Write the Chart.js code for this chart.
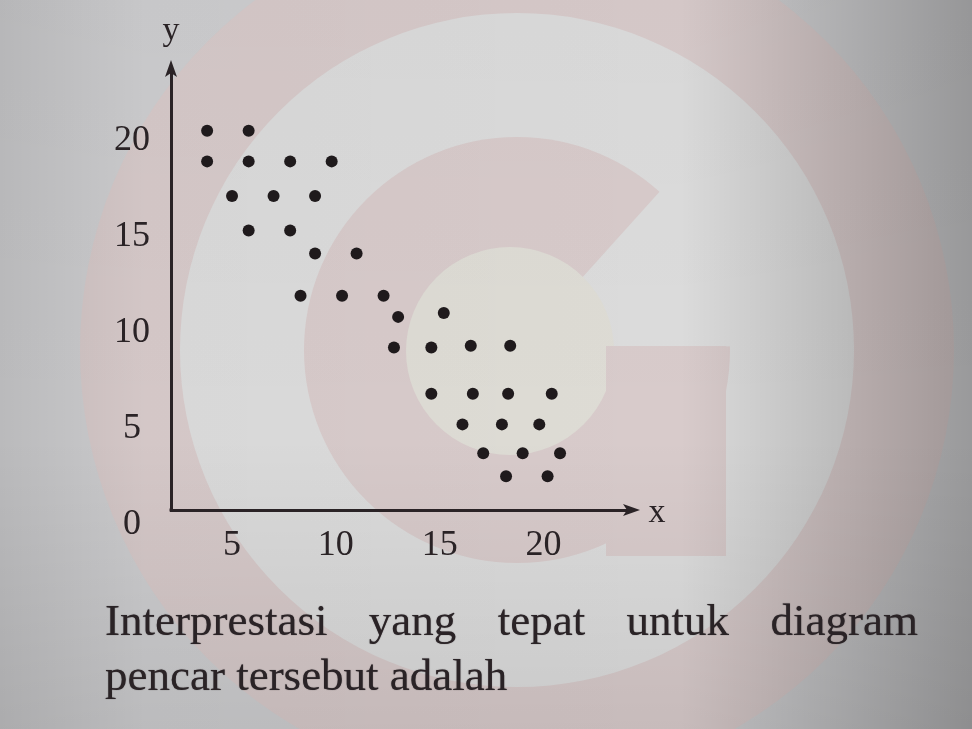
<!DOCTYPE html>
<html><head><meta charset="utf-8">
<script src="https://cdn.jsdelivr.net/npm/chart.js@4.4.0/dist/chart.umd.min.js"></script>
<style>
html,body{margin:0;padding:0;width:972px;height:729px;overflow:hidden;background:#c8c8c8}
#wrap{position:absolute;left:0;top:0;width:972px;height:729px}
.txt{position:absolute;left:105px;width:813px;font-family:"Liberation Serif","Times New Roman",serif;font-size:45px;line-height:55px;color:#2a2326;white-space:nowrap;text-shadow:0 0 1px rgba(40,34,37,0.7)}
#l1{top:593px;text-align:justify;text-align-last:justify;white-space:normal}
#l2{top:648px}
</style></head><body>
<div id="wrap"><canvas id="c" width="972" height="729"></canvas></div>
<div class="txt" id="l1">Interprestasi yang tepat untuk diagram</div>
<div class="txt" id="l2">pencar tersebut adalah</div>
<script>
// Data
const xValues = [3.8, 5.8,
                 3.8, 5.8, 7.8, 9.8,
                 5.0, 7.0, 9.0,
                 5.8, 7.8,
                 9.0, 11.0,
                 8.3, 10.3, 12.3,
                 13.0, 15.2,
                 12.8, 14.6, 16.5, 18.4,
                 14.6, 16.6, 18.3, 20.4,
                 16.1, 18.0, 19.8,
                 17.1, 19.0, 20.8,
                 18.2, 20.2];
const yValues = [20.5, 20.5,
                 18.9, 18.9, 18.9, 18.9,
                 17.1, 17.1, 17.1,
                 15.3, 15.3,
                 14.1, 14.1,
                 11.9, 11.9, 11.9,
                 10.8, 11.0,
                 9.2, 9.2, 9.3, 9.3,
                 6.8, 6.8, 6.8, 6.8,
                 5.2, 5.2, 5.2,
                 3.7, 3.7, 3.7,
                 2.5, 2.5];
const xTicks = [5, 10, 15, 20];
const yTicks = [0, 5, 10, 15, 20];
const xAxisLabel = 'x';
const yAxisLabel = 'y';

const points = xValues.map((x, i) => ({x: x, y: yValues[i]}));
const ink = '#2a2326';
const serif = '"Liberation Serif","Times New Roman",serif';

const bgPlugin = {
  id: 'bg',
  beforeDraw(chart) {
    const ctx = chart.ctx;
    const W = chart.width, H = chart.height;
    const pink = '#d8cbcb', band = '#dcdcdc';
    ctx.save();
    ctx.fillStyle = '#cfcfd1';
    ctx.fillRect(0, 0, W, H);
    const cx = 517, cy = 350;
    ctx.fillStyle = pink;
    ctx.beginPath(); ctx.arc(cx, cy, 437, 0, Math.PI * 2); ctx.fill();
    ctx.fillStyle = band;
    ctx.beginPath(); ctx.arc(cx, cy, 337, 0, Math.PI * 2); ctx.fill();
    ctx.fillStyle = pink;
    ctx.beginPath(); ctx.arc(cx, cy, 213, 0, Math.PI * 2); ctx.fill();
    ctx.fillStyle = band;
    ctx.beginPath(); ctx.moveTo(cx, cy);
    ctx.arc(cx, cy, 216, -48 * Math.PI / 180, -1 * Math.PI / 180);
    ctx.closePath(); ctx.fill();
    ctx.fillStyle = '#dedcd5';
    ctx.beginPath(); ctx.arc(510, 351, 104, 0, Math.PI * 2); ctx.fill();
    ctx.fillStyle = pink;
    ctx.fillRect(606, 346, 120, 210);
    let g = ctx.createLinearGradient(0, 0, W, 0);
    g.addColorStop(0, 'rgba(0,0,0,0.10)');
    g.addColorStop(0.15, 'rgba(0,0,0,0.02)');
    g.addColorStop(0.7, 'rgba(0,0,0,0.0)');
    g.addColorStop(1, 'rgba(0,0,0,0.26)');
    ctx.fillStyle = g; ctx.fillRect(0, 0, W, H);
    let g2 = ctx.createLinearGradient(0, 0, 0, H);
    g2.addColorStop(0, 'rgba(0,0,0,0.02)');
    g2.addColorStop(0.6, 'rgba(0,0,0,0.0)');
    g2.addColorStop(1, 'rgba(0,0,0,0.08)');
    ctx.fillStyle = g2; ctx.fillRect(0, 0, W, H);
    ctx.restore();
  },
  afterDraw(chart) {
    const ctx = chart.ctx;
    const a = chart.chartArea;
    ctx.save();
    ctx.fillStyle = ink;
    ctx.strokeStyle = ink;
    ctx.lineWidth = 3;
    ctx.fillRect(a.left - 1.5, a.bottom - 1.5, 3, 3);
    ctx.beginPath(); ctx.moveTo(a.left, a.top); ctx.lineTo(a.left, a.top - 4); ctx.stroke();
    ctx.beginPath();
    ctx.moveTo(a.left, a.top - 10);
    ctx.lineTo(a.left - 6, a.top + 7);
    ctx.lineTo(a.left, a.top + 3);
    ctx.lineTo(a.left + 6, a.top + 7);
    ctx.closePath(); ctx.fill();
    ctx.beginPath(); ctx.moveTo(a.right, a.bottom); ctx.lineTo(a.right + 4, a.bottom); ctx.stroke();
    ctx.beginPath();
    ctx.moveTo(a.right + 10, a.bottom);
    ctx.lineTo(a.right - 7, a.bottom - 6);
    ctx.lineTo(a.right - 3, a.bottom);
    ctx.lineTo(a.right - 7, a.bottom + 6);
    ctx.closePath(); ctx.fill();
    ctx.font = '34px ' + serif;
    ctx.textAlign = 'center';
    ctx.textBaseline = 'alphabetic';
    ctx.fillText(yAxisLabel, a.left, 40);
    ctx.fillText(xAxisLabel, a.right + 27, a.bottom + 12);
    ctx.restore();
  }
};

new Chart(document.getElementById('c'), {
  type: 'scatter',
  data: {
    datasets: [{
      data: points,
      backgroundColor: '#1f1a1c',
      borderColor: '#1f1a1c',
      borderWidth: 0,
      pointRadius: 6,
      pointHoverRadius: 6
    }]
  },
  options: {
    responsive: false,
    animation: false,
    devicePixelRatio: 1,
    layout: {padding: {left: 111, right: 342, top: 70, bottom: 159}},
    plugins: {legend: {display: false}, tooltip: {enabled: false}, title: {display: false}},
    scales: {
      x: {
        type: 'linear',
        min: 2.06,
        max: 24.17,
        afterBuildTicks(s) { s.ticks = xTicks.map(v => ({value: v})); },
        afterFit(s) { s.height = 60; },
        grid: {display: false, drawTicks: false, tickLength: 0},
        border: {display: true, color: ink, width: 3},
        ticks: {color: ink, font: {family: serif, size: 36}, padding: 14, maxRotation: 0, autoSkip: false}
      },
      y: {
        type: 'linear',
        min: 0.74,
        max: 23.66,
        afterBuildTicks(s) { s.ticks = yTicks.map(v => ({value: v})); },
        afterFit(s) { s.width = 60; },
        grid: {display: false, drawTicks: false, tickLength: 0},
        border: {display: true, color: ink, width: 3},
        ticks: {color: ink, font: {family: serif, size: 36}, padding: 21, crossAlign: 'center', autoSkip: false}
      }
    }
  },
  plugins: [bgPlugin]
});
</script>
</body></html>
